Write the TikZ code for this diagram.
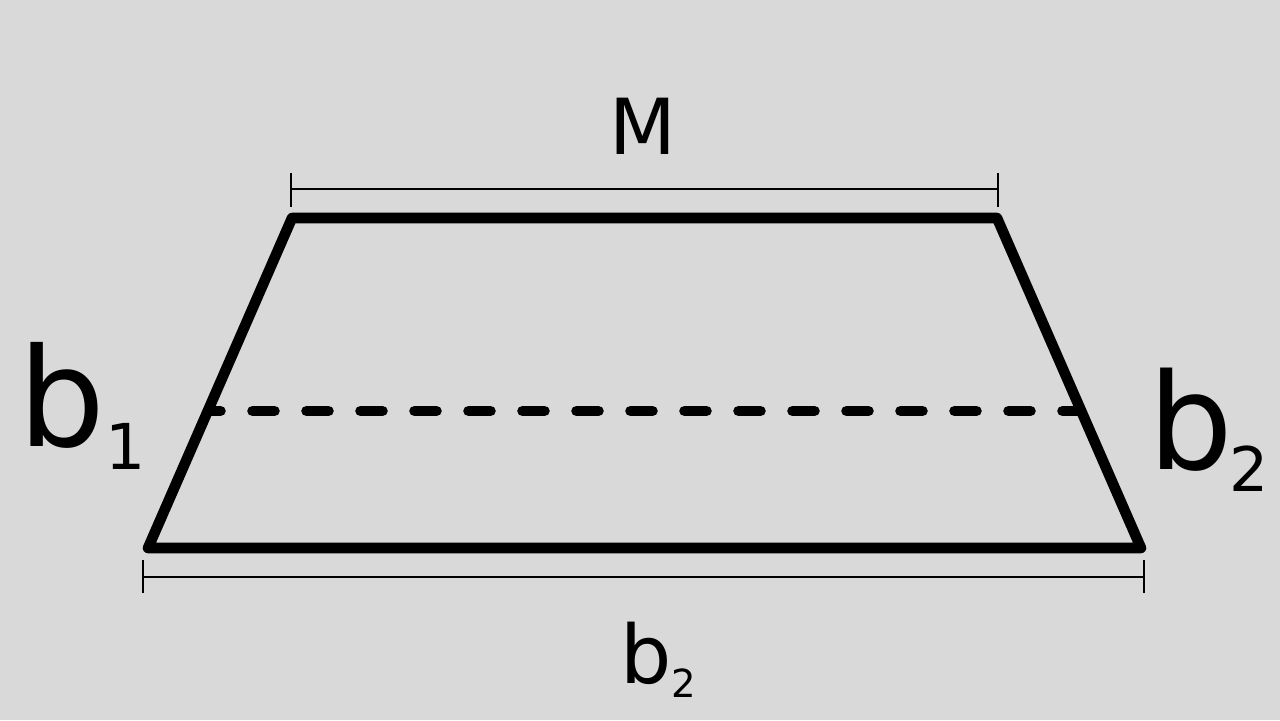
\documentclass[tikz,border=0pt]{standalone}
\usepackage{fontspec}
\setmainfont{DejaVu Sans}
\definecolor{bggray}{RGB}{217,217,217}
\begin{document}
\begin{tikzpicture}
\tikzstyle{edge}=[line width=6pt, line join=round, line cap=round];
\tikzstyle{midline}=[line width=6pt, line cap=round, dash pattern=on 0.44cm off 0.64cm, dash phase=0.23cm];
\tikzstyle{dim}=[line width=1.3pt];
\tikzstyle{lbl}=[inner sep=0pt, text=black];
\fill [bggray] (0, 0) rectangle (25.6, 14.4);
\useasboundingbox (0, 0) rectangle (25.6, 14.4);
% corners
\coordinate (tl) at (5.84, 10.04);
\coordinate (tr) at (19.94, 10.04);
\coordinate (br) at (22.82, 3.44);
\coordinate (bl) at (2.96, 3.44);
\coordinate (ml) at (4.2, 6.18);
\coordinate (mr) at (21.56, 6.18);
% dimension ends
\coordinate (dt1) at (5.82, 10.62);
\coordinate (dt2) at (19.96, 10.62);
\coordinate (db1) at (2.86, 2.86);
\coordinate (db2) at (22.88, 2.86);
\draw [edge] (tl) -- (tr) -- (br) -- (bl) -- cycle;
\draw [midline] (ml) -- (mr);
\draw [dim] (dt1) -- (dt2)
([yshift=0.32cm]dt1) -- ([yshift=-0.36cm]dt1)
([yshift=0.32cm]dt2) -- ([yshift=-0.36cm]dt2)
(db1) -- (db2)
([yshift=0.34cm]db1) -- ([yshift=-0.32cm]db1)
([yshift=0.34cm]db2) -- ([yshift=-0.32cm]db2)
;
\node [lbl, anchor=base] (m) at (12.86, 11.3) {\fontsize{44}{44}\selectfont M};
\node [lbl, anchor=base west] (b1) at (0.36, 5.46)
{{\fontsize{78}{78}\selectfont b}\raisebox{-13pt}{\fontsize{36}{36}\selectfont 1}};
\node [lbl, anchor=base west] (b2r) at (22.96, 5.0)
{{\fontsize{76}{76}\selectfont b}\kern-2pt\raisebox{-12.5pt}{\fontsize{35}{35}\selectfont 2}};
\node [lbl, anchor=base] (b2b) at (13.16, 0.74)
{{\fontsize{46}{46}\selectfont b}\raisebox{-8pt}{\fontsize{22}{22}\selectfont 2}};
\end{tikzpicture}
\end{document}
